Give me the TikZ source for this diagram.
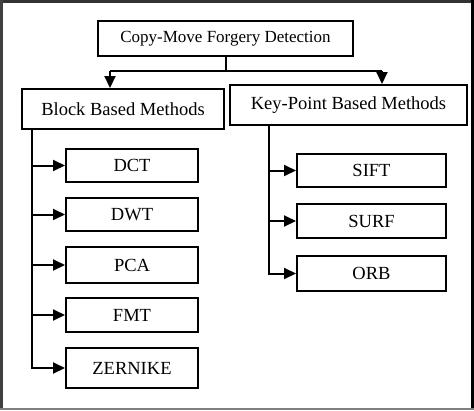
\documentclass[tikz,border=0pt]{standalone}
\usepackage{fontspec}
\setmainfont{Liberation Serif}
\usepackage{tikz}
\usetikzlibrary{arrows.meta, positioning}
\tikzset{
    method/.style={rectangle, draw=black, line width=2pt, fill=white, align=center, font=\fontsize{18.5}{22}\selectfont},
    leaf/.style={method, minimum width=132pt, minimum height=34pt},
    kpleaf/.style={method, minimum width=149pt, minimum height=34pt},
    arrow/.style={-{Triangle[length=12pt,width=11pt]}, line width=2pt},
    link/.style={line width=2pt}
}

\begin{document}
\begin{tikzpicture}[x=1pt, y=-1pt]
    \useasboundingbox (0,0) rectangle (474,410);

    % Frame
    \draw[line width=2.5pt, black!80] (0,1.25) -- (474,1.25);
    \draw[line width=2.5pt, black!75] (1.25,0) -- (1.25,410);
    \draw[line width=2.5pt, black] (472.5,0) -- (472.5,410);
    \draw[line width=2.5pt, gray] (0,408.75) -- (474,408.75);

    % Root
    \node[method, minimum width=255pt, minimum height=35pt, font=\fontsize{17}{20}\selectfont] (cmfd) at (225.5,38.5) {Copy-Move Forgery Detection};

    % Two families
    \node[method, minimum width=202pt, minimum height=40pt] (block) at (123,109) {Block Based Methods};
    \node[method, minimum width=237pt, minimum height=40pt] (keypoint) at (348.5,105) {Key-Point Based Methods};

    % Block based methods
    \node[leaf, minimum height=33pt] (dct) at (132,165.5) {DCT};
    \node[leaf, minimum height=33pt] (dwt) at (132,214.5) {DWT};
    \node[leaf, minimum height=36pt] (pca) at (132,265) {PCA};
    \node[leaf] (fmt) at (132,315) {FMT};
    \node[leaf, minimum height=40pt] (zernike) at (132,368) {ZERNIKE};

    % Key-point based methods
    \node[kpleaf, minimum height=33pt] (sift) at (371.5,170.5) {SIFT};
    \node[kpleaf] (surf) at (371.5,221) {SURF};
    \node[kpleaf, minimum height=35pt] (orb) at (371.5,273.5) {ORB};

    % Split
    \coordinate (split) at (cmfd.south |- 0,71);
    \coordinate (splitL) at (110,71);
    \coordinate (splitR) at (382,71);
    \draw[link] (cmfd.south) -- (split);
    \draw[link] (splitL) -- (splitR);
    \draw[arrow] (splitL) -- (splitL |- block.north);
    \draw[arrow] (splitR) -- (splitR |- keypoint.north);

    % Trunks
    \coordinate (trunkL) at (32,0);
    \coordinate (trunkR) at (269,0);
    \draw[arrow] (trunkL |- block.south) |- (zernike.west);
    \foreach \n in {dct,dwt,pca,fmt}
        \draw[arrow] (trunkL |- \n.west) -- (\n.west);
    \draw[arrow] (trunkR |- keypoint.south) |- (orb.west);
    \foreach \n in {sift,surf}
        \draw[arrow] (trunkR |- \n.west) -- (\n.west);

\end{tikzpicture}
\end{document}
